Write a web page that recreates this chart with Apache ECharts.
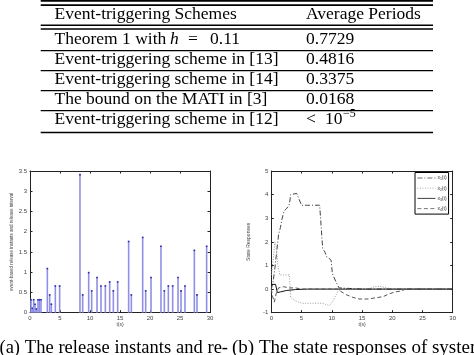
<!DOCTYPE html>
<html><head><meta charset="utf-8">
<script src="https://cdn.jsdelivr.net/npm/echarts@6/dist/echarts.min.js"></script>
<style>html,body{margin:0;padding:0;background:#fff;overflow:hidden}#c{width:474px;height:355px}</style>
</head><body><div id="c"></div>
<script>
// ---- table ----
const tableHeader = ['Event-triggering Schemes', 'Average Periods'];
const tableSchemes = ['Theorem 1 with', 'Event-triggering scheme in [13]', 'Event-triggering scheme in [14]', 'The bound on the MATI in [3]', 'Event-triggering scheme in [12]'];
const tablePeriods = ['0.7729', '0.4816', '0.3375', '0.0168', '10'];

// ---- (a) release instants & intervals ----
const releaseT = [0.17, 0.39, 0.61, 0.83, 1.06, 1.33, 1.56, 1.83, 2.89, 3.28, 3.56, 4.22, 4.94, 8.33, 8.78, 9.78, 10.28, 11.17, 11.83, 12.56, 13.28, 13.89, 14.61, 16.44, 16.89, 18.78, 19.28, 20.17, 21.83, 22.39, 23.06, 23.78, 24.67, 25.17, 25.83, 27.39, 27.83, 29.44];
const releaseH = [0.33, 0.12, 0.33, 0.22, 0.10, 0.33, 0.33, 0.33, 1.10, 0.45, 0.22, 0.67, 0.67, 3.42, 0.45, 1.00, 0.55, 0.88, 0.67, 0.67, 0.77, 0.55, 0.77, 1.77, 0.45, 1.87, 0.55, 0.88, 1.65, 0.55, 0.67, 0.67, 0.88, 0.55, 0.67, 1.55, 0.45, 1.65];

// ---- (b) state responses ----
const x1T = [0, 0.3, 0.6, 0.9, 1.2, 1.5, 1.8, 2.1, 2.5, 2.8, 3.0, 3.2, 3.6, 4.2, 4.6, 5.0, 6.0, 7.0, 8.0, 8.3, 8.5, 8.8, 9.2, 9.6, 9.9, 10.1, 10.4, 10.8, 11.2, 11.5, 15, 20, 25, 30];
const x1V = [0, 0.3, 0.9, 1.6, 2.3, 2.6, 3.0, 3.3, 3.4, 3.5, 3.6, 4.0, 4.02, 4.05, 3.8, 3.55, 3.55, 3.55, 3.55, 3.55, 1.7, 1.6, 1.35, 1.3, 1.2, 0.65, 0.6, 0.25, 0.05, 0, 0, 0, 0, 0];
const x2T = [0, 0.3, 0.6, 0.8, 1.1, 1.4, 2.0, 3.0, 3.2, 4.0, 5.0, 6.5, 8.5, 9.0, 9.6, 10.2, 10.6, 11.0, 11.5, 16, 17, 18, 19, 20, 25, 30];
const x2V = [0.6, 1.2, 2.0, 1.8, 1.0, 0.6, 0.6, 0.6, -0.35, -0.5, -0.6, -0.6, -0.6, -0.65, -0.7, -0.5, -0.3, -0.1, 0, 0, 0.1, 0.12, 0.05, 0, 0, 0];
const x3T = [0, 0.7, 0.8, 1.0, 1.5, 2.5, 4.0, 6.0, 30];
const x3V = [0.2, 0.2, 0.15, -0.15, -0.12, -0.06, -0.02, 0, 0];
const x4T = [0, 0.2, 0.5, 0.8, 1.2, 2.0, 3.0, 4.0, 5.0, 11, 11.5, 12.5, 13.5, 14.5, 16, 17, 18.5, 19.5, 20.5, 21.5, 22, 22.5, 30];
const x4V = [0, -0.3, -0.55, -0.2, 0.05, 0.1, 0.05, 0.05, 0, 0, -0.1, -0.25, -0.35, -0.42, -0.42, -0.38, -0.32, -0.2, -0.12, -0.08, -0.02, 0, 0];

const captionA = ['(a)', 'The', 'release', 'instants', 'and', 're-'];
const captionB = '(b) The state responses of system';

const SERIF = "'Liberation Serif','Times New Roman',serif";
const SANS = "'Liberation Sans',Arial,sans-serif";

const graphic = [];
function hline(y, w) {
  graphic.push({type: 'line', shape: {x1: 40.7, y1: y, x2: 433, y2: y}, style: {stroke: '#000', lineWidth: w}});
}
function txt(x, y, s, size, extra) {
  graphic.push({type: 'text', x: x, y: y, style: Object.assign({text: s, font: size + 'px ' + SERIF, fill: '#000', verticalAlign: 'middle', align: 'left'}, extra || {})});
}
[[0.9, 1.7], [5.1, 1.6], [25.2, 1.6], [29, 1.3], [50.6, 1.3], [70.6, 1.3], [90.6, 1.3], [110.6, 1.3], [132.4, 1.5]].forEach(l => hline(l[0], l[1]));
const FS = 17.5;
txt(54.5, 14.8, tableHeader[0], FS);
txt(306, 14.8, tableHeader[1], FS);
tableSchemes.forEach((s, i) => {
  const y = 39 + i * 20;
  txt(54.5, y, s, FS);
  if (i === 4) {
    txt(306, y, '<', FS);
    txt(325, y, tablePeriods[i], FS);
    txt(343, y - 5, '\u22125', 12);
  } else {
    txt(306, y, tablePeriods[i], FS);
  }
  if (i === 0) {
    graphic.push({type: 'text', x: 170, y: y, style: {text: 'h', font: 'italic ' + FS + 'px ' + SERIF, fill: '#000', verticalAlign: 'middle'}});
    txt(188, y, '=', FS);
    txt(210, y, '0.11', FS);
  }
});

// justified caption (a), natural caption (b)
const cv = document.createElement('canvas').getContext('2d');
function justify(words, x0, x1, y, size) {
  cv.font = size + 'px ' + SERIF;
  const ws = words.map(w => cv.measureText(w).width);
  const total = ws.reduce((a, b) => a + b, 0);
  const gap = (x1 - x0 - total) / (words.length - 1);
  let x = x0;
  words.forEach((w, i) => { txt(x, y, w, size); x += ws[i] + gap; });
}
justify(captionA, -0.5, 228, 348.5, 18.5);
txt(232, 348.5, captionB, 19);

const AX = '#222';
function xAx(grid, pos, name) {
  return {type: 'value', gridIndex: grid, position: pos, min: 0, max: 30, interval: 5,
    axisLine: {show: true, onZero: false, lineStyle: {color: AX, width: 1}},
    axisTick: {show: true, inside: true, length: 2.5, lineStyle: {color: AX}},
    axisLabel: {show: pos === 'bottom', fontSize: 6, color: '#444', margin: 3, fontFamily: SANS},
    splitLine: {show: false},
    name: pos === 'bottom' ? name : '', nameLocation: 'middle', nameGap: 9,
    nameTextStyle: {fontSize: 5, color: '#444', fontFamily: SANS}};
}
function yAx(grid, pos, min, max, interval, name, gap, nsize) {
  return {type: 'value', gridIndex: grid, position: pos, min: min, max: max, interval: interval,
    axisLine: {show: true, onZero: false, lineStyle: {color: AX, width: 1}},
    axisTick: {show: true, inside: true, length: 2.5, lineStyle: {color: AX}},
    axisLabel: {show: pos === 'left', fontSize: 6, color: '#444', margin: 3, fontFamily: SANS},
    splitLine: {show: false},
    name: pos === 'left' ? name : '', nameLocation: 'middle', nameGap: gap, nameRotate: 90,
    nameTextStyle: {fontSize: nsize, color: '#444', fontFamily: SANS}};
}
function pairs(t, v) { return t.map((x, i) => [x, v[i]]); }
function lineSeries(name, t, v, type, color) {
  return {name: name, type: 'line', xAxisIndex: 2, yAxisIndex: 2, data: pairs(t, v), symbol: 'none', smooth: false,
    lineStyle: {color: color, width: 1, type: type}, itemStyle: {color: color}, z: 3};
}

const chart = echarts.init(document.getElementById('c'), null, {renderer: 'canvas'});
chart.setOption({
  animation: false,
  backgroundColor: '#fff',
  grid: [
    {left: 30, top: 171, width: 180, height: 141.7},
    {left: 271.3, top: 171, width: 181.4, height: 141.7}
  ],
  xAxis: [xAx(0, 'bottom', 't(s)'), xAx(0, 'top', ''), xAx(1, 'bottom', 't(s)'), xAx(1, 'top', '')],
  yAxis: [
    yAx(0, 'left', 0, 3.5, 0.5, 'event-based release instants and release interval', 16, 4.5),
    yAx(0, 'right', 0, 3.5, 0.5, '', 0, 5),
    yAx(1, 'left', -1, 5, 1, 'State Responses', 20, 5),
    yAx(1, 'right', -1, 5, 1, '', 0, 5)
  ],
  legend: {
    data: ['x1', 'x2', 'x3', 'x4'], orient: 'vertical', left: 415, top: 172.5,
    backgroundColor: '#fff', borderColor: '#000', borderWidth: 1, borderRadius: 0,
    padding: [3, 2, 2, 2], itemWidth: 18, itemHeight: 4, itemGap: 4.2,
    lineStyle: {width: 0.8},
    itemStyle: {opacity: 0},
    formatter: n => 'x{s|' + n.slice(1) + '}(t)',
    textStyle: {fontSize: 5, color: '#333', fontFamily: SANS, padding: [0, 0, 0, -3],
      rich: {s: {fontSize: 3.5, color: '#333', verticalAlign: 'bottom', padding: [3, 0, 0, 0]}}}
  },
  graphic: graphic,
  series: [
    {type: 'custom', xAxisIndex: 0, yAxisIndex: 0, data: pairs(releaseT, releaseH), encode: {x: 0, y: 1},
      renderItem: function (params, api) {
        const p0 = api.coord([api.value(0), 0]);
        const p1 = api.coord([api.value(0), api.value(1)]);
        return {type: 'group', children: [
          {type: 'line', shape: {x1: p0[0], y1: p0[1], x2: p1[0], y2: p1[1]}, style: {stroke: '#8f8fe6', lineWidth: 1.6}},
          {type: 'rect', shape: {x: p1[0] - 0.8, y: p1[1] - 0.4, width: 1.6, height: 1.6}, style: {fill: '#2a2aa5'}}
        ]};
      }},
    lineSeries('x1', x1T, x1V, [5, 2, 1, 2], '#444'),
    lineSeries('x2', x2T, x2V, [1, 1.5], '#999'),
    lineSeries('x3', x3T, x3V, 'solid', '#111'),
    lineSeries('x4', x4T, x4V, [4, 2.5], '#555')
  ]
});
</script></body></html>
